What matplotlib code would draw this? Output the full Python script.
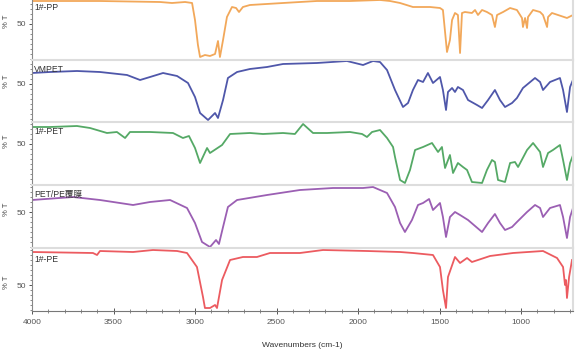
import matplotlib.pyplot as plt
import matplotlib.transforms as mtransforms
from matplotlib.ticker import MultipleLocator, FixedLocator

# ---- spectra: wavenumber (cm-1) and %T per sample ----
pp_wn = [4000, 3583, 3215, 3141, 3061, 3018, 3000, 2982, 2969, 2939, 2908, 2877, 2859, 2847,
         2828, 2804, 2773, 2748, 2730, 2706, 2663, 2460, 2252, 2049, 1865, 1804, 1742, 1663,
         1558, 1497, 1479, 1454, 1436, 1423, 1405, 1387, 1374, 1362, 1344, 1301, 1282, 1264,
         1239, 1209, 1178, 1160, 1147, 1110, 1067, 1025, 994, 988, 975, 963, 957, 926, 883,
         865, 840, 834, 810, 773, 718, 681]
pp_t = [73, 73, 72, 71, 72, 71, 54, 29, 17, 19, 18, 20, 33, 17,
        34, 57, 67, 66, 62, 67, 69, 71, 73, 73, 74, 73, 71, 67,
        67, 66, 64, 22, 34, 54, 61, 59, 21, 61, 62, 61, 64, 59,
        64, 62, 59, 47, 59, 62, 66, 64, 56, 47, 56, 46, 57, 64, 62,
        59, 47, 57, 61, 59, 56, 59]

vmpet_wn = [4000, 3890, 3724, 3583, 3417, 3337, 3276, 3196, 3110, 3043, 3000, 2969, 2920, 2877,
            2859, 2828, 2798, 2742, 2663, 2558, 2460, 2252, 2068, 1969, 1908, 1865, 1822, 1773,
            1724, 1693, 1663, 1632, 1601, 1571, 1540, 1497, 1479, 1460, 1448, 1423, 1405, 1387,
            1356, 1325, 1270, 1239, 1202, 1160, 1129, 1098, 1055, 1025, 988, 914, 883, 865, 822,
            761, 742, 718, 699, 669]
vmpet_t = [61, 62, 63, 62, 59, 54, 57, 61, 58, 51, 37, 21, 14, 21,
           16, 34, 56, 62, 65, 67, 70, 71, 73, 69, 73, 72, 64, 44,
           27, 31, 44, 54, 52, 61, 51, 57, 44, 24, 42, 46, 42, 47,
           44, 34, 29, 26, 34, 44, 34, 27, 31, 36, 46, 56, 52, 44, 52,
           56, 44, 22, 47, 59]

pet_wn = [4000, 3890, 3724, 3644, 3540, 3479, 3429, 3399, 3276, 3135, 3074, 3037, 3000, 2969,
          2926, 2908, 2834, 2785, 2663, 2583, 2460, 2387, 2337, 2276, 2190, 2049, 1975, 1945,
          1914, 1865, 1822, 1785, 1773, 1742, 1712, 1681, 1650, 1601, 1546, 1509, 1485, 1466,
          1436, 1417, 1387, 1356, 1331, 1301, 1239, 1209, 1178, 1160, 1141, 1098, 1067, 1037,
          1018, 963, 926, 883, 865, 834, 804, 761, 742, 718, 699, 669]
pet_t = [67, 67, 68, 66, 61, 62, 56, 62, 62, 61, 56, 58, 46, 31,
         46, 41, 49, 60, 61, 60, 61, 60, 70, 61, 61, 62, 60, 57,
         62, 64, 56, 47, 37, 14, 11, 24, 44, 47, 51, 42, 47, 26,
         39, 21, 31, 27, 24, 12, 11, 24, 34, 32, 14, 12, 31, 32,
         27, 44, 51, 42, 27, 41, 44, 49, 34, 14, 31, 44]

petpe_wn = [4000, 3748, 3583, 3380, 3276, 3153, 3049, 3000, 2957, 2908, 2871, 2853, 2828, 2798,
            2742, 2558, 2356, 2153, 1969, 1908, 1822, 1773, 1742, 1712, 1669, 1632, 1601, 1564,
            1540, 1497, 1479, 1460, 1436, 1405, 1374, 1325, 1282, 1239, 1202, 1160, 1129, 1098,
            1055, 1025, 963, 914, 883, 865, 822, 761, 742, 718, 699, 669]
petpe_t = [62, 65, 62, 57, 60, 62, 54, 39, 20, 15, 22, 18, 35, 55,
           62, 67, 72, 74, 74, 75, 69, 55, 39, 30, 42, 57, 59, 63,
           52, 59, 45, 25, 45, 50, 47, 42, 36, 30, 39, 48, 39, 32,
           35, 40, 50, 57, 54, 45, 54, 57, 45, 24, 45, 60]

pe_wn = [4000, 3626, 3601, 3583, 3380, 3258, 3110, 3049, 2988, 2951, 2939, 2908, 2877, 2865,
         2834, 2785, 2706, 2620, 2540, 2356, 2215, 1945, 1742, 1663, 1540, 1497, 1479, 1460,
         1448, 1405, 1374, 1331, 1301, 1190, 1049, 865, 779, 742, 730, 724, 718, 705, 687]
pe_t = [83, 82, 80, 84, 83, 85, 84, 82, 68, 38, 27, 27, 30, 27,
        55, 75, 78, 78, 82, 82, 85, 84, 83, 82, 80, 68, 45, 27,
        58, 78, 72, 77, 73, 79, 82, 84, 77, 68, 50, 55, 37, 58, 75]

names = ['1#-PP', 'VMPET', '1#-PET', 'PET/PE覆膜', '1#-PE']
colors = ['#f2a85a', '#4f57aa', '#55a966', '#9b5fb3', '#ec5b60']
series = [(pp_wn, pp_t), (vmpet_wn, vmpet_t), (pet_wn, pet_t), (petpe_wn, petpe_t), (pe_wn, pe_t)]
ylims = [(14, 77), (12, 74), (9, 72), (14, 77), (24, 87)]
x_ticks = [4000, 3500, 3000, 2500, 2000, 1500, 1000]

plt.rcParams['font.family'] = ['Liberation Sans', 'Noto Sans CJK SC', 'DejaVu Sans']

W, H = 575, 352
fig = plt.figure(figsize=(W / 100, H / 100), dpi=100)

# panel top/bottom in pixels (first one is cut by the image edge)
rows = [(-3, 60), (60, 122), (122, 185), (185, 248), (248, 311)]
label_off = [10, 9, 10, 9, 11]  # px from panel top to the name text
left_px, right_px = 32, 573
aw = right_px - left_px

for i, ((top, bot), (wn, t)) in enumerate(zip(rows, series)):
    h = bot - top
    ax = fig.add_axes([left_px / W, 1 - bot / H, aw / W, h / H])
    ax.plot(wn, t, color=colors[i], lw=1.3)
    ax.set_xlim(4000, 681)
    ax.set_ylim(*ylims[i])
    ax.yaxis.set_major_locator(FixedLocator([50]))
    ax.yaxis.set_minor_locator(MultipleLocator(5))
    ax.tick_params(axis='y', which='major', labelsize=6, length=2.5, width=0.7,
                   colors='#555555', pad=1.5)
    ax.tick_params(axis='y', which='minor', length=1.5, width=0.6, colors='#777777')
    ax.set_ylabel('% T', fontsize=5.5, color='#444444')
    trans = mtransforms.blended_transform_factory(ax.transAxes, ax.transData)
    ax.yaxis.set_label_coords(-22 / aw, 53, transform=trans)
    ax.text(0.004, 1 - label_off[i] / h, names[i], transform=ax.transAxes, fontsize=6.2,
            color='#333333', va='center', ha='left')
    for s in ['top', 'right']:
        ax.spines[s].set_color('#dddddd')
        ax.spines[s].set_linewidth(1.5)
    ax.spines['left'].set_color('#888888')
    ax.spines['left'].set_linewidth(0.8)
    ax.xaxis.set_major_locator(FixedLocator(x_ticks))
    ax.xaxis.set_minor_locator(MultipleLocator(100))
    if i < len(rows) - 1:
        ax.spines['bottom'].set_visible(False)
        ax.tick_params(axis='x', which='both', bottom=False, labelbottom=False)
    else:
        ax.spines['bottom'].set_color('#777777')
        ax.spines['bottom'].set_linewidth(0.8)
        ax.tick_params(axis='x', which='major', direction='inout', length=4, width=0.7,
                       labelsize=6, colors='#555555', pad=4)
        ax.tick_params(axis='x', which='minor', direction='inout', length=2.5, width=0.6,
                       colors='#777777')
        ax.set_xlabel('Wavenumbers (cm-1)', fontsize=6, color='#333333', labelpad=11)

fig.savefig('out.png', dpi=100)
